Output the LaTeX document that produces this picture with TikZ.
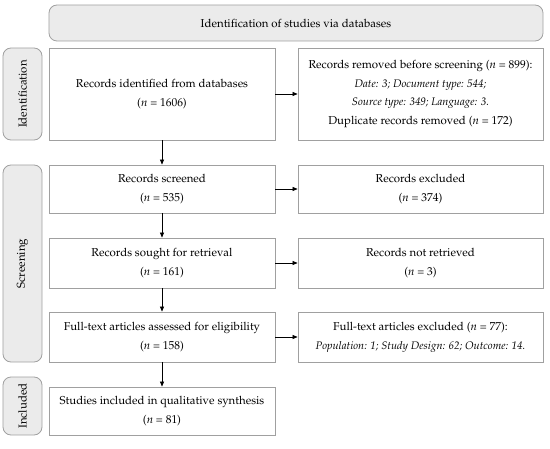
\documentclass[tikz,border=0pt]{standalone}
\usepackage[T1]{fontenc}
\usepackage{mathpazo}
\usetikzlibrary{arrows.meta}
\definecolor{bordergray}{HTML}{A0A0A0}
\definecolor{fillgray}{HTML}{EBEBEB}
\newcommand{\itline}[1]{{\fontsize{11}{19}\selectfont\itshape #1}}
\begin{document}
\begin{tikzpicture}[x=1bp,y=-1bp,
  every node/.style={font=\fontsize{11.5}{19}\selectfont, align=center, inner sep=0pt},
  box/.style={draw=bordergray, line width=0.8bp, fill=white},
  banner/.style={draw=bordergray, line width=0.8bp, fill=fillgray, rounded corners=8bp},
  sidebar/.style={draw=bordergray, line width=0.8bp, fill=fillgray, rounded corners=8bp},
  arr/.style={-{Triangle[length=5bp,width=4bp]}, line width=0.6bp, black}
]
\useasboundingbox (0,0) rectangle (550,449);
\node[banner, minimum width=494bp, minimum height=36bp] (ban) at (296,23) {Identification of studies via databases};

\node[sidebar, minimum width=39bp, minimum height=92bp] (sid) at (22.5,94) {};
\node[rotate=90] (sidt) at (sid.center) {Identification};
\node[sidebar, minimum width=39bp, minimum height=197bp] (sscr) at (22.5,263.5) {};
\node[rotate=90] (sscrt) at (sscr.center) {Screening};
\node[sidebar, minimum width=39bp, minimum height=58bp] (sinc) at (22.5,406) {};
\node[rotate=90] (sinct) at (sinc.center) {Included};

\node[box, minimum width=226bp, minimum height=92bp] (b1) at (162,94) {Records identified from databases\\(\textit{n} = 1606)};
\node[box, minimum width=226bp, minimum height=48bp] (b2) at (162,189) {Records screened\\(\textit{n} = 535)};
\node[box, minimum width=226bp, minimum height=50bp] (b3) at (162,263) {Records sought for retrieval\\(\textit{n} = 161)};
\node[box, minimum width=226bp, minimum height=50bp] (b4) at (162,337) {Full-text articles assessed for eligibility\\(\textit{n} = 158)};
\node[box, minimum width=226bp, minimum height=48bp] (b5) at (162,411) {Studies included in qualitative synthesis\\(\textit{n} = 81)};

\node[box, minimum width=245bp, minimum height=92bp] (r1) at (420.5,94) {Records removed before screening (\textit{n} = 899):\\\itline{Date: 3; Document type: 544;}\\\itline{Source type: 349; Language: 3.}\\Duplicate records removed (\textit{n} = 172)};
\node[box, minimum width=245bp, minimum height=48bp] (r2) at (420.5,189) {Records excluded\\(\textit{n} = 374)};
\node[box, minimum width=245bp, minimum height=50bp] (r3) at (420.5,263) {Records not retrieved\\(\textit{n} = 3)};
\node[box, minimum width=245bp, minimum height=50bp] (r4) at (420.5,337) {Full-text articles excluded (\textit{n} = 77):\\\itline{Population: 1; Study Design: 62; Outcome: 14.}};

\draw[arr] (b1) -- (b2);
\draw[arr] (b2) -- (b3);
\draw[arr] (b3) -- (b4);
\draw[arr] (b4) -- (b5);
\draw[arr] (b1) -- (r1);
\draw[arr] (b2) -- (r2);
\draw[arr] (b3) -- (r3);
\draw[arr] (b4) -- (r4);
\end{tikzpicture}
\end{document}
